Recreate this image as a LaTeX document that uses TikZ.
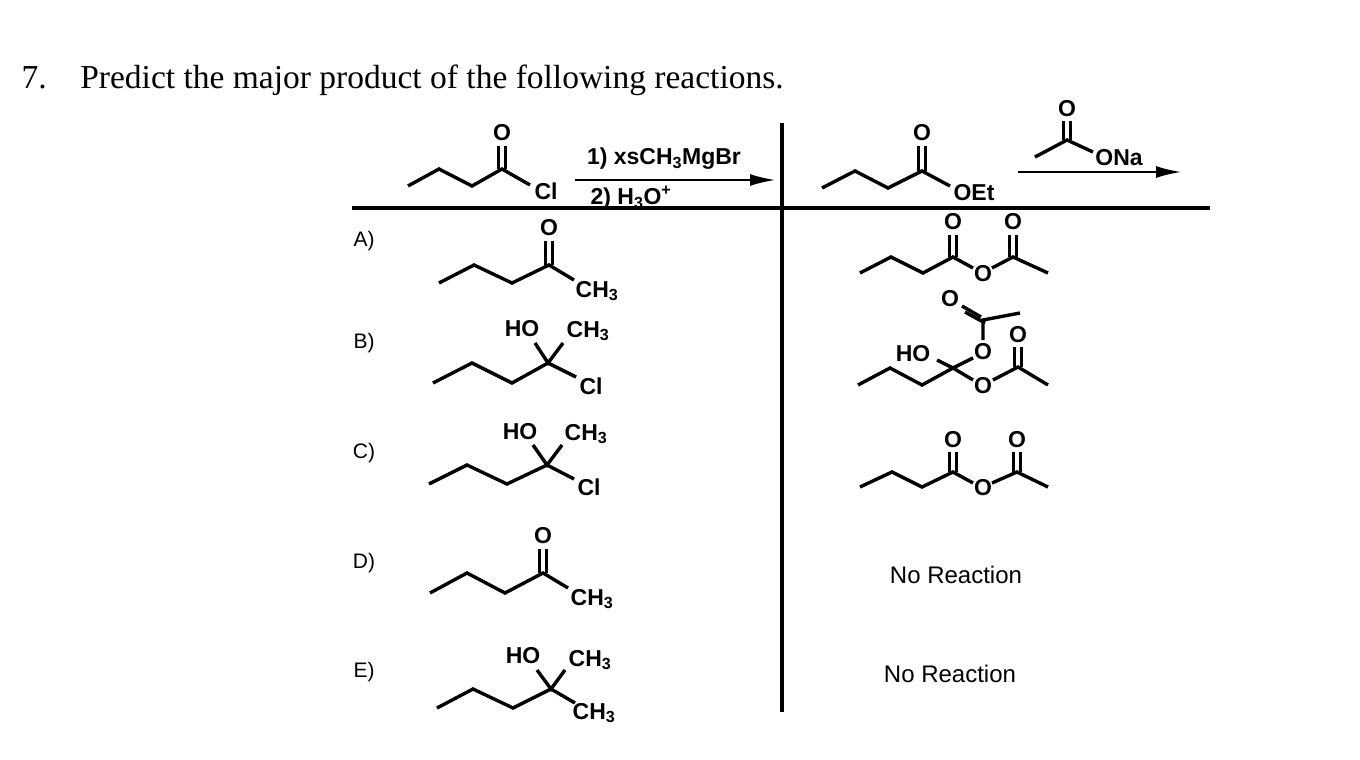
\documentclass[tikz,border=0pt]{standalone}
\usepackage{fontspec}
\setmainfont{Liberation Serif}
\setsansfont{Liberation Sans}
\usetikzlibrary{arrows.meta}
\newcommand{\sbs}[1]{\textsubscript{#1}}
\begin{document}
\begin{tikzpicture}[x=1pt,y=-1pt,line width=3.4pt,
  lab/.style={font=\sffamily\bfseries\fontsize{23}{23}\selectfont,inner sep=0pt},
  let/.style={font=\sffamily\fontsize{21}{21}\selectfont,inner sep=0pt},
  nr/.style={font=\sffamily\fontsize{24}{24}\selectfont,inner sep=0pt}]
\useasboundingbox (0,0) rectangle (1360,760);
\newcommand{\dbl}[3]{\draw (#1-3.5,#2)--(#1-3.5,#3); \draw (#1+3.5,#2)--(#1+3.5,#3);}
% title
\node[anchor=west,font=\fontsize{33.5}{33.5}\selectfont,inner sep=0pt] (title) at (20,80) {7.\hspace{1.0em}Predict the major product of the following reactions.};
% grid lines
\draw (352,208)--(1210,208);
\draw (782,123)--(782,712);
% top left: acyl chloride
\draw (408,186)--(439,169)--(472,186)--(502,169)--(530,185);
\dbl{502}{169}{146}
\node[lab] (o1) at (502,133) {O};
\node[lab] (cl1) at (546,191) {Cl};
\draw[-{Latex[length=26pt,width=12pt]}, line width=2.8pt] (575,180)--(776,180);
\node[lab] (r1) at (664,159) {1) xsCH\sbs{3}MgBr};
\node[lab] (r2) at (631,198) {2) H\sbs{3}O\textsuperscript{+}};
% top right: ester
\draw (822,188)--(855,171)--(888,188)--(922,171)--(950,186);
\dbl{922}{171}{146}
\node[lab] (o2) at (922,133) {O};
\node[lab] (oet) at (974,193) {OEt};
% sodium acetate
\draw (1035,157)--(1067,140)--(1093,152);
\dbl{1067}{140}{121}
\node[lab] (o3) at (1067,109) {O};
\node[lab] (ona) at (1119,158) {ONa};
\draw[-{Latex[length=26pt,width=12pt]}, line width=2.8pt] (1018,172)--(1182,172);
% letters
\node[let] at (364,241) {A)};
\node[let] at (364,343) {B)};
\node[let] at (364,453) {C)};
\node[let] at (364,563) {D)};
\node[let] at (364,672) {E)};
% A left
\draw (439,283)--(474,265)--(512,283)--(549,265)--(574,280);
\dbl{549}{265}{241}
\node[lab] at (549,228) {O};
\node[lab] at (597,291) {CH\sbs{3}};
% B left
\draw (433,383)--(472,363)--(512,383)--(548,363);
\draw (535,343)--(548,363)--(563,343);
\draw (548,363)--(576,377);
\node[lab] at (522,329) {HO};
\node[lab] at (588,331) {CH\sbs{3}};
\node[lab] at (591,386) {Cl};
% C left
\draw (429,484)--(467,465)--(507,484)--(547,465);
\draw (533,445)--(547,465)--(562,445);
\draw (547,465)--(574,479);
\node[lab] at (520,432) {HO};
\node[lab] at (586,434) {CH\sbs{3}};
\node[lab] at (589,487) {Cl};
% D left
\draw (430,593)--(467,573)--(505,593)--(543,573)--(568,588);
\dbl{543}{573}{549}
\node[lab] at (543,536) {O};
\node[lab] at (592,599) {CH\sbs{3}};
% E left
\draw (437,708)--(473,689)--(513,708)--(551,689);
\draw (537,670)--(551,689)--(565,670);
\draw (551,689)--(575,703);
\node[lab] at (523,656) {HO};
\node[lab] at (590,660) {CH\sbs{3}};
\node[lab] at (594,713) {CH\sbs{3}};
% A right: anhydride
\draw (860,273)--(891,257)--(923,273)--(953,257)--(973,268);
\draw (992,268)--(1013,257)--(1048,273);
\dbl{953}{257}{235}
\dbl{1013}{257}{235}
\node[lab] at (953,222) {O};
\node[lab] at (1013,222) {O};
\node[lab] at (983,274) {O};
% B right
\draw (858,385)--(890,368)--(922,385)--(953,368);
\draw (937,360)--(953,368)--(973,358);
\draw (953,368)--(973,380);
\node[lab] at (913,354) {HO};
\node[lab] at (983,352) {O};
\node[lab] at (983,386) {O};
\draw (983,340)--(983,320)--(1020,313);
\draw (981,317)--(962,306); \draw (985,323)--(965,312);
\node[lab] at (950,299) {O};
\draw (993,380)--(1018,367)--(1048,385);
\dbl{1018}{367}{347}
\node[lab] at (1018,335) {O};
% C right: anhydride
\draw (860,487)--(892,472)--(922,487)--(953,472)--(973,483);
\draw (992,483)--(1017,472)--(1048,487);
\dbl{953}{472}{452}
\dbl{1017}{472}{452}
\node[lab] at (953,440) {O};
\node[lab] at (1017,440) {O};
\node[lab] at (983,488) {O};
% no reactions
\node[nr] at (956,575) {No Reaction};
\node[nr] at (950,674) {No Reaction};
\end{tikzpicture}
\end{document}
